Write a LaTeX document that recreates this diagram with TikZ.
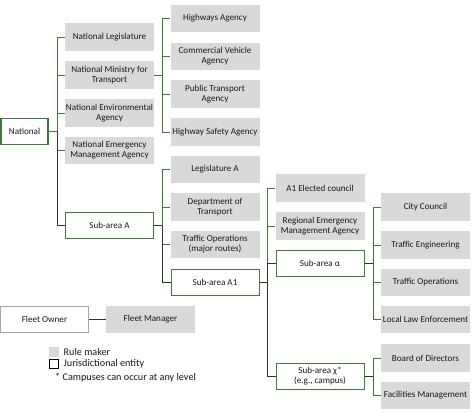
\documentclass[tikz,border=0pt]{standalone}
\usepackage{fontspec}
\setmainfont{Carlito}
\definecolor{rulegray}{HTML}{D9D9D9}
\definecolor{boxgreen}{HTML}{3F7A3A}
\definecolor{linegreen}{HTML}{3F7A3A}
\begin{document}
\begin{tikzpicture}[x=1pt,y=-1pt,
  every node/.style={font=\fontsize{9.1}{10}\selectfont, text=black!90, align=center, inner sep=0pt},
  rule/.style={fill=rulegray, minimum width=89pt, minimum height=27.5pt},
  jur/.style={draw=boxgreen, line width=1pt, fill=white, minimum width=88pt, minimum height=26.5pt},
  gline/.style={draw=linegreen, line width=0.9pt},
  dline/.style={draw=black!80, line width=0.9pt},
  legtext/.style={anchor=west, font=\fontsize{10.2}{12}\selectfont}]
\useasboundingbox (0,0) rectangle (474,412);

% column 0
\node[jur, minimum width=47pt, line width=1.2pt] (nat) at (24.5,131.5) {National};
% column 1
\node[rule] (nleg) at (109.5,37) {National Legislature};
\node[rule] (nmin) at (109.5,75) {National Ministry for\\Transport};
\node[rule] (nenv) at (109.5,113) {National Environmental\\Agency};
\node[rule] (nemg) at (109.5,150.5) {National Emergency\\Management Agency};
\node[jur] (suba) at (109.5,225.5) {Sub-area A};
% column 2
\node[rule] (hwy) at (215,18.5) {Highways Agency};
\node[rule] (cva) at (215,56.5) {Commercial Vehicle\\Agency};
\node[rule] (pta) at (215,94) {Public Transport\\Agency};
\node[rule] (hsa) at (215,132) {Highway Safety Agency};
\node[rule] (lega) at (215,169.5) {Legislature A};
\node[rule] (dot) at (215,207) {Department of\\Transport};
\node[rule] (tom) at (215,244.5) {Traffic Operations\\(major routes)};
\node[jur] (suba1) at (215,282.5) {Sub-area A1};
% column 3
\node[rule] (a1c) at (320,188) {A1 Elected council};
\node[rule] (rema) at (320,226) {Regional Emergency\\Management Agency};
\node[jur] (subal) at (320,263.5) {Sub-area α};
\node[jur] (subchi) at (320,376.5) {Sub-area χ*\\(e.g., campus)};
% column 4
\node[rule] (cc) at (425.5,207) {City Council};
\node[rule] (te) at (425.5,245) {Traffic Engineering};
\node[rule] (to) at (425.5,282.5) {Traffic Operations};
\node[rule] (lle) at (425.5,319.5) {Local Law Enforcement};
\node[rule] (bod) at (425.5,358) {Board of Directors};
\node[rule] (fm) at (425.5,395.5) {Facilities Management};

% fleet
\node[draw=black!35, line width=0.8pt, fill=white, minimum width=88pt, minimum height=26.5pt] (fo) at (44.5,319.5) {Fleet Owner};
\node[rule] (fmg) at (150.5,319.5) {Fleet Manager};
\draw[dline] (fo) -- (fmg);

% buses
\coordinate (b1) at (57,0);
\coordinate (b2) at (162.5,0);
\coordinate (b3) at (267.5,0);
\coordinate (b4) at (373,0);

% National
\draw[gline] (nat.east) -- (nat.east -| b1);
\foreach \c in {nleg,nmin,nenv,nemg} \draw[gline] (nat.east -| b1) |- (\c.west);
\draw[dline] (nat.east -| b1) |- (suba.west);
% Ministry
\draw[gline] (nmin.east) -- (nmin.east -| b2);
\foreach \c in {hwy,cva,pta,hsa} \draw[gline] (nmin.east -| b2) |- (\c.west);
% Sub-area A
\draw[dline] (suba.east) -- (suba.east -| b2);
\foreach \c in {lega,dot,tom} \draw[gline] (suba.east -| b2) |- (\c.west);
\draw[dline] (suba.east -| b2) |- (suba1.west);
% Sub-area A1
\draw[dline] (suba1.east) -- (suba1.east -| b3);
\foreach \c in {a1c,rema} \draw[gline] (suba1.east -| b3) |- (\c.west);
\draw[dline] (suba1.east -| b3) |- (subal.west);
\draw[dline] (suba1.east -| b3) |- (subchi.west);
% Sub-area alpha
\draw[dline] (subal.east) -- (subal.east -| b4);
\foreach \c in {cc,te,to,lle} \draw[gline] (subal.east -| b4) |- (\c.west);
% Sub-area chi
\draw[dline] (subchi.east) -- (subchi.east -| b4);
\foreach \c in {bod,fm} \draw[gline] (subchi.east -| b4) |- (\c.west);

% legend
\node[fill=rulegray, minimum size=9.5pt] (lg1) at (54,352) {};
\node[legtext] (lt1) at (63.5,352) {Rule maker};
\node[draw=black, line width=1pt, fill=white, minimum size=9pt] (lg2) at (54,364) {};
\node[legtext] (lt2) at (63.5,364) {Jurisdictional entity};
\node[legtext] (lt3) at (55,378) {* Campuses can occur at any level};
\end{tikzpicture}
\end{document}
